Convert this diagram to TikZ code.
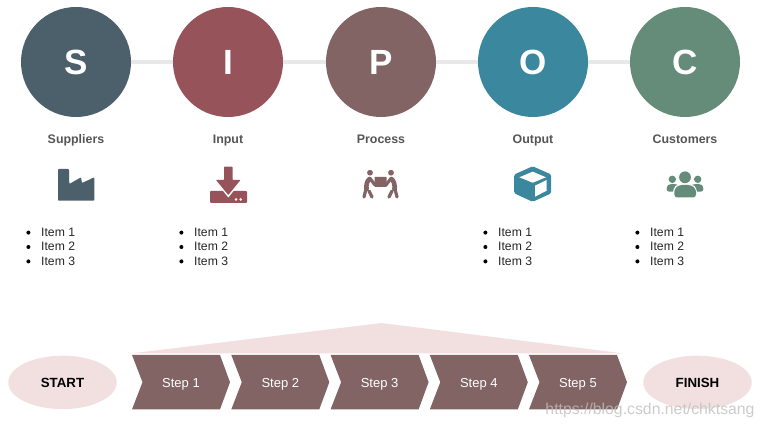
\documentclass[tikz,border=0pt]{standalone}
\usepackage{fontspec}
\setmainfont{Liberation Sans}
\usetikzlibrary{shapes.geometric}
\definecolor{cS}{HTML}{4B606B}
\definecolor{cI}{HTML}{96545A}
\definecolor{cP}{HTML}{826464}
\definecolor{cO}{HTML}{3A879E}
\definecolor{cC}{HTML}{648C78}
\definecolor{barc}{HTML}{E8E8E8}
\definecolor{pale}{HTML}{F2E0E0}
\definecolor{labc}{HTML}{555555}
\tikzset{
  x=1pt,y=-1pt,
  letter/.style={circle,minimum size=110pt,inner sep=0pt},
  lettertext/.style={anchor=base,inner sep=0pt,text=white,font=\fontsize{35}{36}\selectfont\bfseries},
  bar/.style={draw=barc,line width=4pt},
  heading/.style={anchor=base,inner sep=0pt,text=labc,font=\fontsize{12.4}{14}\selectfont\bfseries},
  itemtext/.style={anchor=base west,inner sep=0pt,text=black!85,font=\fontsize{12.2}{14}\selectfont},
  dot/.style={circle,fill=black,minimum size=4pt,inner sep=0pt},
  oval/.style={ellipse,fill=pale,minimum width=108.5pt,minimum height=53.5pt,inner sep=0pt},
  ovaltext/.style={anchor=base,inner sep=0pt,text=black,font=\fontsize{13.3}{14}\selectfont\bfseries},
  steptext/.style={anchor=base,inner sep=0pt,text=white,font=\fontsize{13}{14}\selectfont},
  limb/.style={draw=cP,line width=3.2pt,line cap=round,line join=round},
}
\begin{document}
\begin{tikzpicture}
\useasboundingbox (0,0) rectangle (763,427);
% circles
\node[letter,fill=cS] (s) at (76,62) {};
\node[letter,fill=cI] (i) at (228,62) {};
\node[letter,fill=cP] (p) at (381,62) {};
\node[letter,fill=cO] (o) at (533,62) {};
\node[letter,fill=cC] (c) at (685,62) {};
\foreach \a/\b in {s/i,i/p,p/o,o/c} \draw[bar] (\a) -- (\b);
\foreach \n/\x/\t in {ls/76/S,li/228/I,lp/381/P,lo/533/O,lc/685/C}
  \node[lettertext] (\n) at (\x,75) {\t};
% headings
\node[heading] (h1) at (76,144) {Suppliers};
\node[heading] (h2) at (228,144) {Input};
\node[heading] (h3) at (381,144) {Process};
\node[heading] (h4) at (533,144) {Output};
\node[heading] (h5) at (685,144) {Customers};
% factory
\fill[cS,rounded corners=0.8pt] (58,169) -- (69,169) -- (69.3,184) -- (81,177.3) -- (82,183) -- (94.3,177.3) -- (94.3,200.7) -- (58,200.7) -- cycle;
% download
\fill[cI,rounded corners=1pt] (210,191) rectangle (247,203);
\fill[white] (222.7,190.5) -- (228.3,197.5) -- (233.9,190.5) -- cycle;
\fill[cI,rounded corners=0.6pt] (224,166.7) -- (232.5,166.7) -- (232.5,180) -- (240.5,180) -- (228.3,195) -- (216,180) -- (224,180) -- cycle;
\fill[white] (236,199.4) circle (1.4) (240.7,199.4) circle (1.4);
% carriers
\fill[cP] (370,172.7) circle (2.9) (391,172.7) circle (2.9);
\fill[cP,rounded corners=0.5pt] (374.5,177) rectangle (386.5,187);
\draw[limb] (370,178.5) -- (375,185);
\draw[limb] (391,178.5) -- (386,185);
\draw[limb,line width=4.6pt] (369.5,179) .. controls (367,181) and (366,185) .. (366.5,189);
\draw[limb,line width=4.6pt] (391.5,179) .. controls (394,181) and (395,185) .. (394.5,189);
\draw[limb] (366,189) -- (364,197);
\draw[limb] (395,189) -- (397,197);
\draw[limb] (369,191) -- (372,197);
\draw[limb] (392,191) -- (389,197);
% cube
\fill[cO,rounded corners=1.5pt] (532.7,166.3) -- (551.2,174.5) -- (551.2,193.3) -- (532.7,201.8) -- (514.2,193.3) -- (514.2,174.5) -- cycle;
\fill[white] (532.7,171.7) -- (546,177.3) -- (532.7,182.7) -- (519.3,177.3) -- cycle;
\fill[white] (535,185.7) -- (546.7,180) -- (546.7,190.7) -- (535,196.7) -- cycle;
% people
\fill[cC] (672.3,179.3) circle (3.7) (697.7,179.3) circle (3.7) (685,177.3) circle (5.9);
\fill[cC,rounded corners=2.5pt] (666.7,191.7) -- (666.7,186) -- (670,184) -- (676,184) -- (680,186) -- (675,191.7) -- cycle;
\fill[cC,rounded corners=2.5pt] (703.3,191.7) -- (703.3,186) -- (700,184) -- (694,184) -- (690,186) -- (695,191.7) -- cycle;
\fill[white,rounded corners=4pt] (673,198) -- (673,188) -- (678,184) -- (692,184) -- (697,188) -- (697,198) -- cycle;
\fill[cC,rounded corners=3pt] (674.3,197.5) -- (674.3,189) -- (679,185) -- (691,185) -- (696,189) -- (696,197.5) -- cycle;
% lists
\foreach \k/\x in {a/41,b/194,d/498,e/650}{
  \foreach \r/\yy/\dy in {1/236.7/232.6,2/251/247,3/265.5/261.4}{
    \node[dot] (dot\k\r) at (\x-12.6,\dy) {};
    \node[itemtext] (item\k\r) at (\x,\yy) {Item \r};
  }
}
% trapezoid
\fill[pale] (132,353.3) -- (381.5,323) -- (623,353.3) -- cycle;
% ovals
\node[oval] (start) at (62.5,382.4) {};
\node[ovaltext] (starttext) at (62.5,387.5) {START};
\node[oval] (finish) at (697.5,382.4) {};
\node[ovaltext] (finishtext) at (697.5,387.5) {FINISH};
% chevrons
\foreach \n/\x in {1/132,2/231.3,3/330.6,4/429.8,5/529}{
  \fill[cP] (\x,355) -- (\x+88,355) -- (\x+98,382.2) -- (\x+88,409.4) -- (\x,409.4) -- (\x+10.5,382.2) -- cycle;
  \node[steptext] (step\n) at (\x+49,387.7) {Step \n};
}
% watermark
\node[anchor=base,inner sep=0pt,text=lightgray,opacity=0.8,font=\fontsize{15.8}{16}\selectfont] (mark) at (650,414) {https://blog.csdn.net/chktsang};
\end{tikzpicture}
\end{document}
